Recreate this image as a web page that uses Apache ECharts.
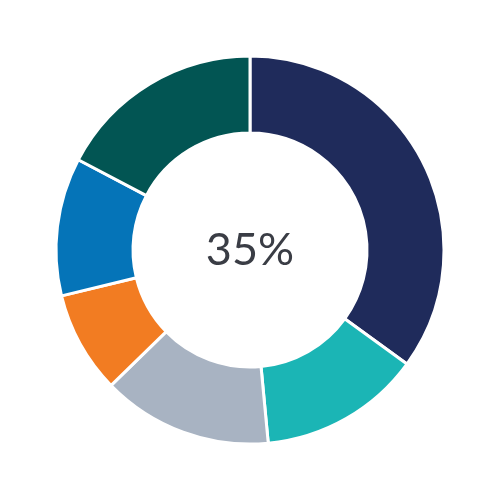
<!DOCTYPE html>
<html>
<head>
<meta charset="utf-8">
<script src="https://cdn.jsdelivr.net/npm/echarts@6/dist/echarts.min.js"></script>
<style>
  html, body { margin: 0; padding: 0; background: #fff; }
  #chart { width: 500px; height: 500px; }
</style>
</head>
<body>
<div id="chart"></div>
<script>
// 数据
const categories = ['A', 'B', 'C', 'D', 'E', 'F'];
const values = [35, 13.5, 14.2, 8.5, 11.5, 17.3];
const colors = ['#1f2b5b', '#1bb5b5', '#a8b3c2', '#f27c22', '#0574b8', '#025553'];
const centerLabel = '35%';

const chart = echarts.init(document.getElementById('chart'));

chart.setOption({
  backgroundColor: '#fff',
  animation: false,
  color: colors,
  title: {
    text: centerLabel,
    left: 'center',
    top: 'middle',
    textStyle: {
      fontFamily: 'Lato',
      fontWeight: 400,
      fontSize: 45,
      color: '#3a3d45'
    }
  },
  series: [{
    type: 'pie',
    center: ['50%', '50%'],
    radius: [117, 194],
    startAngle: 90,
    clockwise: true,
    label: { show: false },
    labelLine: { show: false },
    itemStyle: { borderColor: '#fff', borderWidth: 3 },
    emphasis: { disabled: true },
    data: categories.map((c, i) => ({ name: c, value: values[i] }))
  }]
});
</script>
</body>
</html>
